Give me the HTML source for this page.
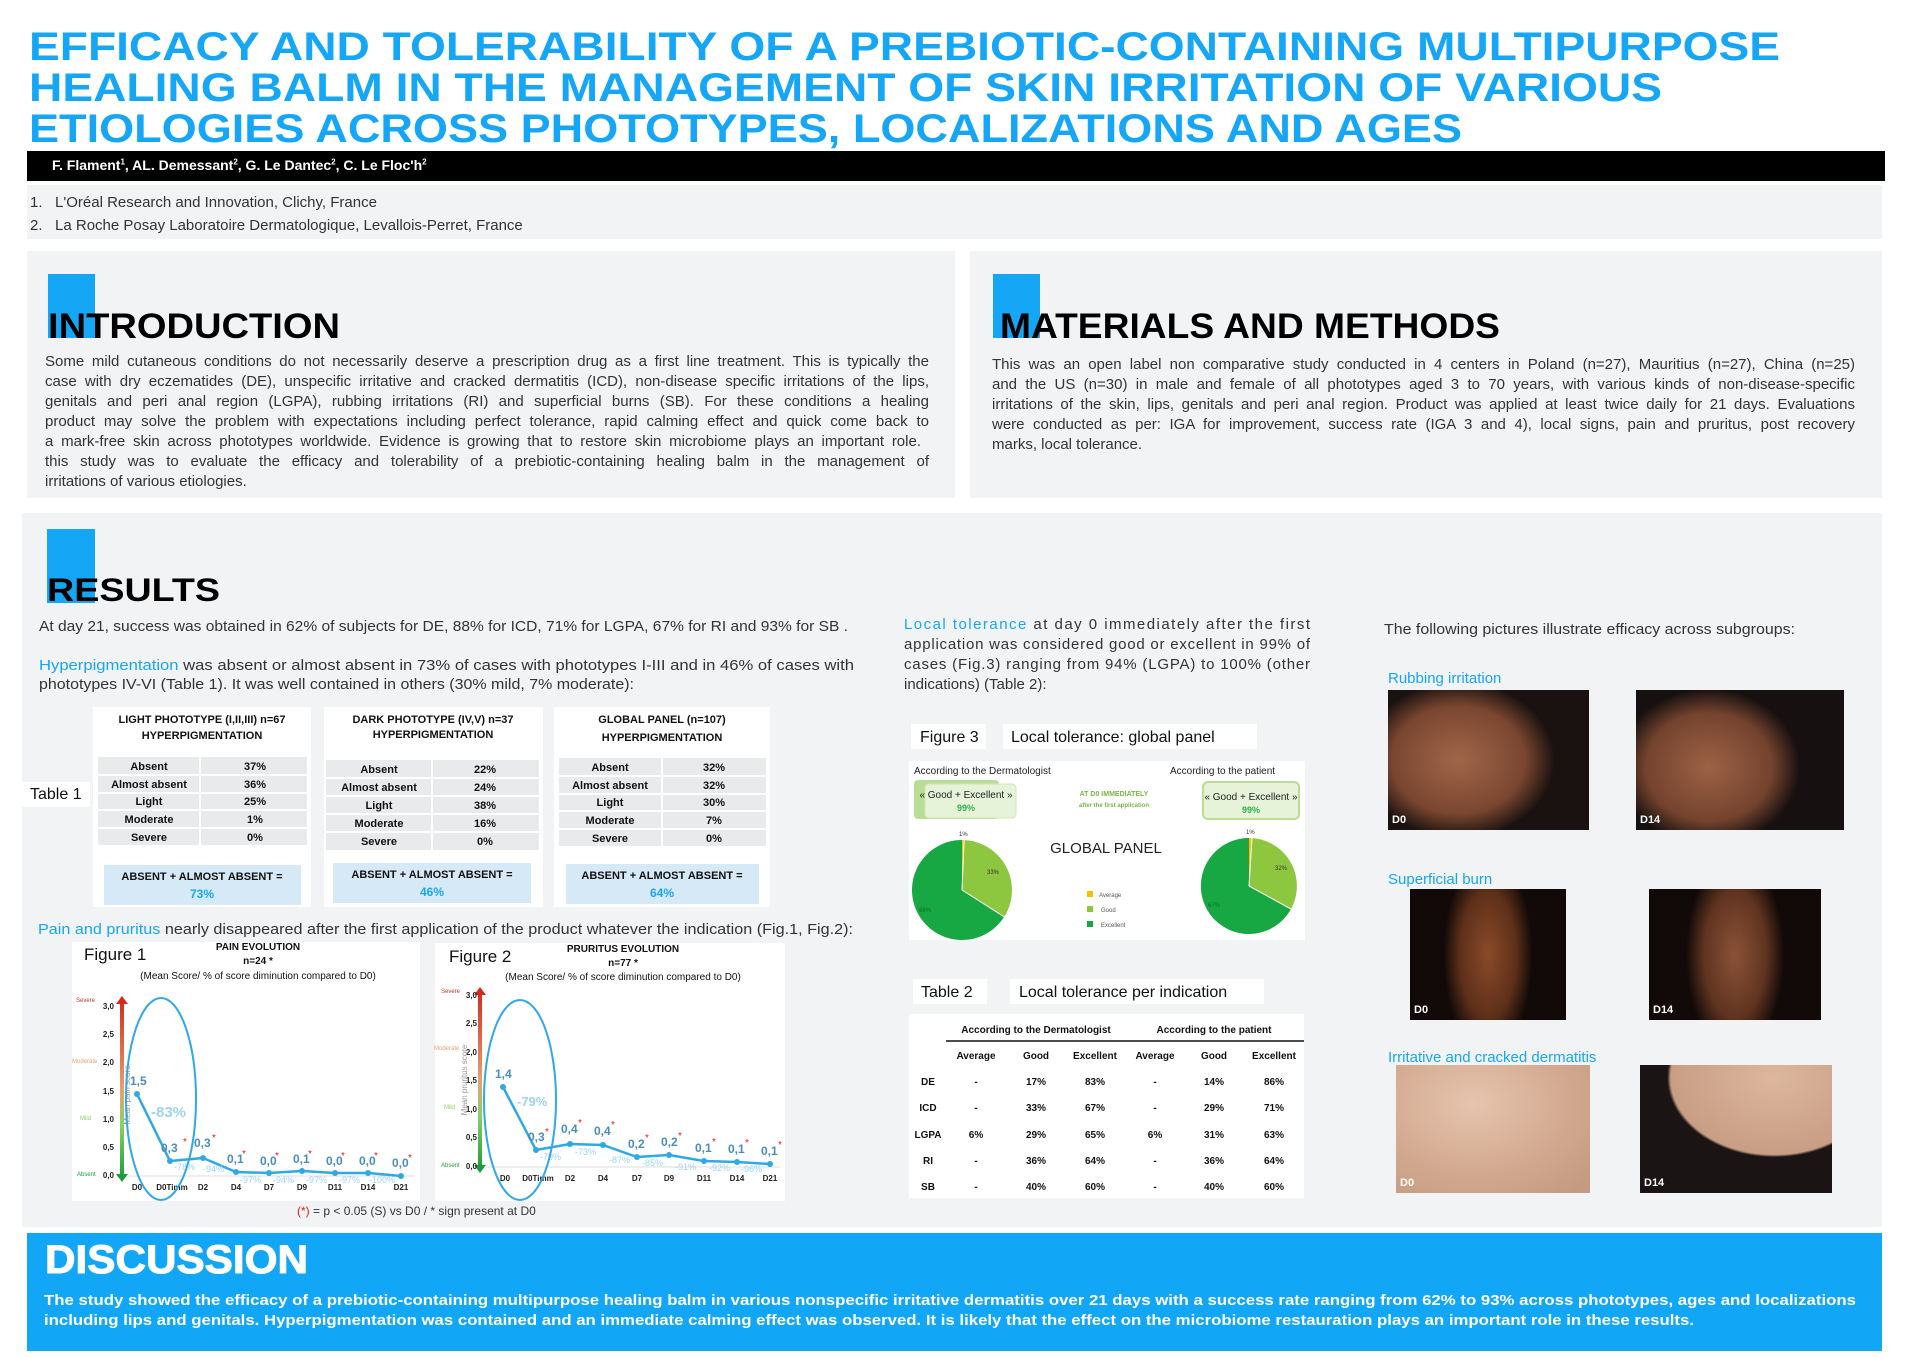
<!DOCTYPE html>
<html><head><meta charset="utf-8">
<style>
*{margin:0;padding:0;box-sizing:border-box}
body{width:1918px;height:1358px;background:#fff;position:relative;overflow:hidden;font-family:"Liberation Sans Narrow","Liberation Sans",sans-serif;color:#222}
.a{position:absolute}
.panel{position:absolute;background:#f2f3f5}
.sq{position:absolute;background:#16a6f6}
.ln{position:absolute;white-space:nowrap;font-size:15px;line-height:20px;color:#333}
.j{text-align:justify;text-align-last:justify}
.photo{position:absolute;background:#0e0c0c;overflow:hidden}
.photo span{position:absolute;left:4px;bottom:4px;color:#fff;font-size:11px;font-weight:bold}
</style></head><body>

<div class="a" style="left:27px;top:151px;width:1858px;height:30px;background:#000"></div>
<div class="a" style="left:52px;top:157px;color:#fff;font-size:14px;font-weight:bold;white-space:nowrap">F. Flament<sup style="font-size:8px">1</sup>, AL. Demessant<sup style="font-size:8px">2</sup>, G. Le Dantec<sup style="font-size:8px">2</sup>, C. Le Floc'h<sup style="font-size:8px">2</sup></div>

<div class="panel" style="left:27px;top:185px;width:1855px;height:54px"></div>
<div class="ln" style="left:30px;top:193px;font-size:15px">1.&nbsp;&nbsp; L'Oréal Research and Innovation, Clichy, France</div>
<div class="ln" style="left:30px;top:216px;font-size:15px">2.&nbsp;&nbsp; La Roche Posay Laboratoire Dermatologique, Levallois-Perret, France</div>

<!-- Intro -->
<div class="panel" style="left:27px;top:251px;width:928px;height:247px"></div>
<div class="sq" style="left:48px;top:274px;width:47px;height:64px"></div>
<div class="ln j" style="left:45px;top:352px;width:884px">Some mild cutaneous conditions do not necessarily deserve a prescription drug as a first line treatment. This is typically the</div>
<div class="ln j" style="left:45px;top:372px;width:884px">case with dry eczematides (DE), unspecific irritative and cracked dermatitis (ICD), non-disease specific irritations of the lips,</div>
<div class="ln j" style="left:45px;top:392px;width:884px">genitals and peri anal region (LGPA), rubbing irritations (RI) and superficial burns (SB). For these conditions a healing</div>
<div class="ln j" style="left:45px;top:412px;width:884px">product may solve the problem with expectations including perfect tolerance, rapid calming effect and quick come back to</div>
<div class="ln j" style="left:45px;top:432px;width:876px">a mark-free skin across phototypes worldwide. Evidence is growing that to restore skin microbiome plays an important role.</div>
<div class="ln j" style="left:45px;top:452px;width:884px">this study was to evaluate the efficacy and tolerability of a prebiotic-containing healing balm in the management of</div>
<div class="ln" style="left:45px;top:472px">irritations of various etiologies.</div>

<!-- Methods -->
<div class="panel" style="left:970px;top:251px;width:912px;height:247px"></div>
<div class="sq" style="left:993px;top:274px;width:47px;height:64px"></div>
<div class="ln j" style="left:992px;top:355px;width:863px">This was an open label non comparative study conducted in 4 centers in Poland (n=27), Mauritius (n=27), China (n=25)</div>
<div class="ln j" style="left:992px;top:375px;width:863px">and the US (n=30) in male and female of all phototypes aged 3 to 70 years, with various kinds of non-disease-specific</div>
<div class="ln j" style="left:992px;top:395px;width:863px">irritations of the skin, lips, genitals and peri anal region. Product was applied at least twice daily for 21 days. Evaluations</div>
<div class="ln j" style="left:992px;top:415px;width:863px">were conducted as per: IGA for improvement, success rate (IGA 3 and 4), local signs, pain and pruritus, post recovery</div>
<div class="ln" style="left:992px;top:435px">marks, local tolerance.</div>

<!-- Results -->
<div class="panel" style="left:22px;top:513px;width:1860px;height:714px"></div>
<div class="sq" style="left:47px;top:529px;width:48px;height:74px"></div>

<div class="a" style="left:22px;top:782px;width:68px;height:25px;background:#fff;font-size:16px;line-height:25px;padding-left:8px;color:#111">Table 1</div>

<!-- Photos -->
<div class="photo" style="left:1388px;top:690px;width:201px;height:140px;background:radial-gradient(ellipse 60% 70% at 35% 50%,#a0664a 0%,#7a4630 55%,#1a1210 80%)"><span>D0</span></div>
<div class="photo" style="left:1636px;top:690px;width:208px;height:140px;background:radial-gradient(ellipse 55% 70% at 35% 55%,#9c6246 0%,#74432e 55%,#161010 80%)"><span>D14</span></div>
<div class="photo" style="left:1410px;top:889px;width:156px;height:131px;background:radial-gradient(ellipse 30% 80% at 50% 50%,#8a4a2a 0%,#5e3019 60%,#120a08 95%)"><span>D0</span></div>
<div class="photo" style="left:1649px;top:889px;width:172px;height:131px;background:radial-gradient(ellipse 30% 80% at 50% 50%,#8a5238 0%,#603420 60%,#120a08 95%)"><span>D14</span></div>
<div class="photo" style="left:1396px;top:1065px;width:194px;height:128px;background:radial-gradient(ellipse 80% 90% at 40% 30%,#e6c4ad 0%,#cfa58b 70%,#c49a80 100%)"><span>D0</span></div>
<div class="photo" style="left:1640px;top:1065px;width:192px;height:128px;background:radial-gradient(ellipse 90% 100% at 70% 10%,#dcb69d 0%,#c89e84 60%,#1a1414 62%)"><span>D14</span></div>

<!-- Discussion -->
<div class="a" style="left:27px;top:1233px;width:1855px;height:118px;background:#12a6f6"></div>

<svg class="a" style="left:0;top:0" width="1918" height="1358" xmlns="http://www.w3.org/2000/svg" font-family="Liberation Sans Narrow, Liberation Sans, sans-serif">
<defs>
<linearGradient id="gr" x1="0" y1="0" x2="0" y2="1"><stop offset="0" stop-color="#d42a1e"/><stop offset="0.5" stop-color="#e8a070"/><stop offset="0.7" stop-color="#8ccf6a"/><stop offset="1" stop-color="#1a9e3a"/></linearGradient>
</defs>
<g font-family="Liberation Sans, sans-serif" font-weight="bold" font-size="40" fill="#16a6f6">
<text x="29" y="60" textLength="1751" lengthAdjust="spacingAndGlyphs">EFFICACY AND TOLERABILITY OF A PREBIOTIC-CONTAINING MULTIPURPOSE</text>
<text x="29" y="101" textLength="1633" lengthAdjust="spacingAndGlyphs">HEALING BALM IN THE MANAGEMENT OF SKIN IRRITATION OF VARIOUS</text>
<text x="29" y="142" textLength="1433" lengthAdjust="spacingAndGlyphs">ETIOLOGIES ACROSS PHOTOTYPES, LOCALIZATIONS AND AGES</text>
</g>
<g font-family="Liberation Sans, sans-serif" font-weight="bold" fill="#000">
<text x="48" y="338" font-size="35" textLength="292" lengthAdjust="spacingAndGlyphs">INTRODUCTION</text>
<text x="1000" y="338" font-size="35" textLength="500" lengthAdjust="spacingAndGlyphs">MATERIALS AND METHODS</text>
<text x="47" y="601" font-size="32" textLength="173" lengthAdjust="spacingAndGlyphs">RESULTS</text>
<text x="45" y="1273" font-size="40" fill="#fff" textLength="263" lengthAdjust="spacingAndGlyphs" stroke="#fff" stroke-width="1">DISCUSSION</text>
</g>
<g font-size="14.5" font-weight="bold" fill="#fff">
<text x="44" y="1305" textLength="1812" lengthAdjust="spacingAndGlyphs">The study showed the efficacy of a prebiotic-containing multipurpose healing balm in various nonspecific irritative dermatitis over 21 days with a success rate ranging from 62% to 93% across phototypes, ages and localizations</text>
<text x="44" y="1325" textLength="1650" lengthAdjust="spacingAndGlyphs">including lips and genitals. Hyperpigmentation was contained and an immediate calming effect was observed. It is likely that the effect on the microbiome restauration plays an important role in these results.</text>
</g>
<g font-size="15" fill="#333">
<text x="39" y="631" textLength="809" lengthAdjust="spacingAndGlyphs">At day 21, success was obtained in 62% of subjects for DE, 88% for ICD, 71% for LGPA, 67% for RI and 93% for SB .</text>
<text x="39" y="670" textLength="815" lengthAdjust="spacingAndGlyphs"><tspan fill="#16a6f6">Hyperpigmentation</tspan> was absent or almost absent in 73% of cases with phototypes I-III and in 46% of cases with</text>
<text x="39" y="689" textLength="595" lengthAdjust="spacingAndGlyphs">phototypes IV-VI (Table 1). It was well contained in others (30% mild, 7% moderate):</text>
<text x="38" y="934" textLength="815" lengthAdjust="spacingAndGlyphs"><tspan fill="#16a6f6">Pain and pruritus</tspan> nearly disappeared after the first application of the product whatever the indication (Fig.1, Fig.2):</text>
</g>

<g font-size="11" font-weight="bold" text-anchor="middle" fill="#111">
<rect x="93" y="707" width="218" height="200" fill="#fff"/>
<text x="202" y="723">LIGHT PHOTOTYPE (I,II,III) n=67</text><text x="202" y="739">HYPERPIGMENTATION</text>
<rect x="98" y="757" width="209" height="88" fill="#e9eaec"/>
<g stroke="#fff" stroke-width="2"><line x1="98" y1="775" x2="307" y2="775"/><line x1="98" y1="793" x2="307" y2="793"/><line x1="98" y1="810" x2="307" y2="810"/><line x1="98" y1="828" x2="307" y2="828"/><line x1="200" y1="757" x2="200" y2="845"/></g>
<text x="149" y="770">Absent</text><text x="255" y="770">37%</text>
<text x="149" y="788">Almost absent</text><text x="255" y="788">36%</text>
<text x="149" y="805">Light</text><text x="255" y="805">25%</text>
<text x="149" y="823">Moderate</text><text x="255" y="823">1%</text>
<text x="149" y="841">Severe</text><text x="255" y="841">0%</text>
<rect x="104" y="865" width="197" height="40" fill="#d6e9f6"/>
<text x="202" y="880">ABSENT + ALMOST ABSENT =</text><text x="202" y="898" fill="#16a6f6" font-size="12">73%</text>

<rect x="324" y="707" width="219" height="200" fill="#fff"/>
<text x="433" y="723">DARK PHOTOTYPE (IV,V) n=37</text><text x="433" y="738">HYPERPIGMENTATION</text>
<rect x="326" y="760" width="213" height="90" fill="#e9eaec"/>
<g stroke="#fff" stroke-width="2"><line x1="326" y1="778" x2="539" y2="778"/><line x1="326" y1="796" x2="539" y2="796"/><line x1="326" y1="814" x2="539" y2="814"/><line x1="326" y1="832" x2="539" y2="832"/><line x1="432" y1="760" x2="432" y2="850"/></g>
<text x="379" y="773">Absent</text><text x="485" y="773">22%</text>
<text x="379" y="791">Almost absent</text><text x="485" y="791">24%</text>
<text x="379" y="809">Light</text><text x="485" y="809">38%</text>
<text x="379" y="827">Moderate</text><text x="485" y="827">16%</text>
<text x="379" y="845">Severe</text><text x="485" y="845">0%</text>
<rect x="333" y="863" width="198" height="40" fill="#d6e9f6"/>
<text x="432" y="878">ABSENT + ALMOST ABSENT =</text><text x="432" y="896" fill="#16a6f6" font-size="12">46%</text>

<rect x="554" y="707" width="216" height="200" fill="#fff"/>
<text x="662" y="723">GLOBAL PANEL (n=107)</text><text x="662" y="741">HYPERPIGMENTATION</text>
<rect x="559" y="758" width="207" height="88" fill="#e9eaec"/>
<g stroke="#fff" stroke-width="2"><line x1="559" y1="776" x2="766" y2="776"/><line x1="559" y1="794" x2="766" y2="794"/><line x1="559" y1="811" x2="766" y2="811"/><line x1="559" y1="829" x2="766" y2="829"/><line x1="662" y1="758" x2="662" y2="846"/></g>
<text x="610" y="771">Absent</text><text x="714" y="771">32%</text>
<text x="610" y="789">Almost absent</text><text x="714" y="789">32%</text>
<text x="610" y="806">Light</text><text x="714" y="806">30%</text>
<text x="610" y="824">Moderate</text><text x="714" y="824">7%</text>
<text x="610" y="842">Severe</text><text x="714" y="842">0%</text>
<rect x="566" y="864" width="193" height="40" fill="#d6e9f6"/>
<text x="662" y="879">ABSENT + ALMOST ABSENT =</text><text x="662" y="897" fill="#16a6f6" font-size="12">64%</text>
</g>

<!-- Figure 1 -->
<rect x="72" y="942" width="348" height="259" fill="#fff"/>
<text x="84" y="960" font-size="17" fill="#111">Figure 1</text>
<g font-size="10" text-anchor="middle" fill="#111"><text x="258" y="950" font-weight="bold">PAIN EVOLUTION</text><text x="258" y="964" font-weight="bold">n=24 *</text><text x="258" y="979">(Mean Score/ % of score diminution compared to D0)</text></g>
<text x="76" y="1002" font-size="6" fill="#c0392b">Severe</text><text x="72" y="1063" font-size="6" fill="#e8a070">Moderate</text><text x="80" y="1120" font-size="6" fill="#8ccf6a">Mild</text><text x="77" y="1176" font-size="6" fill="#1a9e3a">Absent</text>
<rect x="120" y="1000" width="4" height="178" fill="url(#gr)"/>
<polygon points="116,1004 128,1004 122,996" fill="#d42a1e"/><polygon points="116,1174 128,1174 122,1182" fill="#1a9e3a"/>
<g font-size="8" font-weight="bold" fill="#222" text-anchor="end"><text x="114" y="1009">3,0</text><text x="114" y="1037">2,5</text><text x="114" y="1065">2,0</text><text x="114" y="1094">1,5</text><text x="114" y="1122">1,0</text><text x="114" y="1150">0,5</text><text x="114" y="1178">0,0</text></g>
<text transform="translate(130,1095) rotate(-90)" font-size="8" fill="#999" text-anchor="middle">Mean pain score</text>
<line x1="128" y1="1176" x2="415" y2="1176" stroke="#ddd"/>
<polyline points="137,1094 170,1161 203,1158 236,1172 269,1173 302,1171 335,1173 368,1173 401,1176" fill="none" stroke="#2fa8e6" stroke-width="2.5"/>
<g fill="#2fa8e6"><circle cx="137" cy="1094" r="3"/><circle cx="170" cy="1161" r="3"/><circle cx="203" cy="1158" r="3"/><circle cx="236" cy="1172" r="3"/><circle cx="269" cy="1173" r="3"/><circle cx="302" cy="1171" r="3"/><circle cx="335" cy="1173" r="3"/><circle cx="368" cy="1173" r="3"/><circle cx="401" cy="1176" r="3"/></g>
<g font-size="12" font-weight="bold" fill="#4a8db8"><text x="130" y="1085">1,5</text><text x="161" y="1152">0,3</text><text x="194" y="1147">0,3</text><text x="227" y="1163">0,1</text><text x="260" y="1165">0,0</text><text x="293" y="1163">0,1</text><text x="326" y="1165">0,0</text><text x="359" y="1165">0,0</text><text x="392" y="1167">0,0</text></g>
<g font-size="10" fill="#e02020"><text x="183" y="1145">*</text><text x="212" y="1141">*</text><text x="242" y="1157">*</text><text x="275" y="1159">*</text><text x="308" y="1157">*</text><text x="341" y="1159">*</text><text x="374" y="1159">*</text><text x="408" y="1161">*</text></g>
<text x="151" y="1117" font-size="15" font-weight="bold" fill="#9fd3f0">-83%</text>
<g font-size="9" fill="#9fd3f0"><text x="174" y="1170">-78%</text><text x="203" y="1172">-94%</text><text x="240" y="1183">-97%</text><text x="273" y="1183">-94%</text><text x="306" y="1183">-97%</text><text x="339" y="1183">-97%</text><text x="369" y="1183">-100%</text></g>
<g font-size="8" font-weight="bold" fill="#222" text-anchor="middle"><text x="137" y="1190">D0</text><text x="172" y="1190">D0Timm</text><text x="203" y="1190">D2</text><text x="236" y="1190">D4</text><text x="269" y="1190">D7</text><text x="302" y="1190">D9</text><text x="335" y="1190">D11</text><text x="368" y="1190">D14</text><text x="401" y="1190">D21</text></g>
<ellipse cx="161" cy="1099" rx="35" ry="101" fill="none" stroke="#2fa8e6" stroke-width="2"/>

<!-- Figure 2 -->
<rect x="435" y="943" width="350" height="258" fill="#fff"/>
<text x="449" y="962" font-size="17" fill="#111">Figure 2</text>
<g font-size="10" text-anchor="middle" fill="#111"><text x="623" y="952" font-weight="bold">PRURITUS EVOLUTION</text><text x="623" y="966" font-weight="bold">n=77 *</text><text x="623" y="980">(Mean Score/ % of score diminution compared to D0)</text></g>
<text x="441" y="993" font-size="6" fill="#c0392b">Severe</text><text x="434" y="1050" font-size="6" fill="#e8a070">Moderate</text><text x="444" y="1109" font-size="6" fill="#8ccf6a">Mild</text><text x="441" y="1167" font-size="6" fill="#1a9e3a">Absent</text>
<rect x="478" y="991" width="4" height="178" fill="url(#gr)"/>
<polygon points="474,995 486,995 480,987" fill="#d42a1e"/><polygon points="474,1165 486,1165 480,1173" fill="#1a9e3a"/>
<g font-size="8" font-weight="bold" fill="#222" text-anchor="end"><text x="477" y="998">3,0</text><text x="477" y="1026">2,5</text><text x="477" y="1055">2,0</text><text x="477" y="1083">1,5</text><text x="477" y="1112">1,0</text><text x="477" y="1140">0,5</text><text x="477" y="1169">0,0</text></g>
<text transform="translate(467,1080) rotate(-90)" font-size="8" fill="#999" text-anchor="middle">Mean pruritus score</text>
<line x1="486" y1="1167" x2="780" y2="1167" stroke="#ddd"/>
<polyline points="503,1087 536,1150 570,1144 603,1145 637,1157 669,1155 704,1161 737,1162 770,1164" fill="none" stroke="#2fa8e6" stroke-width="2.5"/>
<g fill="#2fa8e6"><circle cx="503" cy="1087" r="3"/><circle cx="536" cy="1150" r="3"/><circle cx="570" cy="1144" r="3"/><circle cx="603" cy="1145" r="3"/><circle cx="637" cy="1157" r="3"/><circle cx="669" cy="1155" r="3"/><circle cx="704" cy="1161" r="3"/><circle cx="737" cy="1162" r="3"/><circle cx="770" cy="1164" r="3"/></g>
<g font-size="12" font-weight="bold" fill="#4a8db8"><text x="495" y="1078">1,4</text><text x="528" y="1141">0,3</text><text x="561" y="1133">0,4</text><text x="594" y="1135">0,4</text><text x="628" y="1148">0,2</text><text x="661" y="1146">0,2</text><text x="695" y="1152">0,1</text><text x="728" y="1153">0,1</text><text x="761" y="1155">0,1</text></g>
<g font-size="10" fill="#e02020"><text x="545" y="1135">*</text><text x="578" y="1126">*</text><text x="611" y="1128">*</text><text x="645" y="1141">*</text><text x="678" y="1139">*</text><text x="712" y="1145">*</text><text x="745" y="1146">*</text><text x="778" y="1148">*</text></g>
<text x="517" y="1106" font-size="13" font-weight="bold" fill="#9fd3f0">-79%</text>
<g font-size="9" fill="#9fd3f0"><text x="540" y="1160">-79%</text><text x="575" y="1155">-73%</text><text x="609" y="1163">-87%</text><text x="642" y="1166">-85%</text><text x="675" y="1170">-91%</text><text x="709" y="1171">-92%</text><text x="741" y="1172">-96%</text></g>
<g font-size="8" font-weight="bold" fill="#222" text-anchor="middle"><text x="505" y="1181">D0</text><text x="538" y="1181">D0Timm</text><text x="570" y="1181">D2</text><text x="603" y="1181">D4</text><text x="637" y="1181">D7</text><text x="669" y="1181">D9</text><text x="704" y="1181">D11</text><text x="737" y="1181">D14</text><text x="770" y="1181">D21</text></g>
<ellipse cx="520" cy="1100" rx="36" ry="100" fill="none" stroke="#2fa8e6" stroke-width="2"/>

<text x="297" y="1215" font-size="12" fill="#333"><tspan fill="#e02020">(*)</tspan> =  p &lt; 0.05 (S) vs D0 / * sign present at D0</text>

<g font-size="15" fill="#333">
<text x="904" y="629" textLength="406" lengthAdjust="spacing"><tspan fill="#16a6f6">Local tolerance</tspan> at day 0 immediately after the first</text>
<text x="904" y="649" textLength="406" lengthAdjust="spacing">application was considered good or excellent in 99% of</text>
<text x="904" y="669" textLength="406" lengthAdjust="spacing">cases (Fig.3) ranging from 94% (LGPA) to 100% (other</text>
<text x="904" y="689">indications) (Table 2):</text>
<text x="1384" y="634" textLength="411" lengthAdjust="spacingAndGlyphs">The following pictures illustrate efficacy across subgroups:</text>
<text x="1388" y="683" fill="#16a6f6">Rubbing irritation</text>
<text x="1388" y="884" fill="#16a6f6">Superficial burn</text>
<text x="1388" y="1062" fill="#16a6f6">Irritative and cracked dermatitis</text>
</g>

<!-- Figure 3 -->
<rect x="911" y="724" width="75" height="25" fill="#fff"/><text x="920" y="742" font-size="16" fill="#111">Figure 3</text>
<rect x="1003" y="724" width="254" height="25" fill="#fff"/><text x="1011" y="742" font-size="16" fill="#111">Local tolerance: global panel</text>
<rect x="909" y="761" width="396" height="179" fill="#fff"/>
<text x="914" y="774" font-size="10" fill="#222">According to the Dermatologist</text>
<text x="1170" y="774" font-size="10" fill="#222">According to the patient</text>
<rect x="914" y="780" width="85" height="39" rx="4" fill="#b9dd94"/>
<rect x="925" y="784" width="91" height="34" rx="4" fill="#e6f3d8" stroke="#cfe6b7"/>
<text x="966" y="798" font-size="10" fill="#222" text-anchor="middle">« Good + Excellent »</text>
<text x="966" y="811" font-size="9" font-weight="bold" fill="#2db34a" text-anchor="middle">99%</text>
<rect x="1203" y="782" width="96" height="37" rx="5" fill="#e6f3d8" stroke="#b9dd94" stroke-width="2"/>
<text x="1251" y="800" font-size="10" fill="#222" text-anchor="middle">« Good + Excellent »</text>
<text x="1251" y="813" font-size="9" font-weight="bold" fill="#2db34a" text-anchor="middle">99%</text>
<text x="1114" y="796" font-size="7" fill="#7ab648" text-anchor="middle" font-weight="bold">AT D0 IMMEDIATELY</text>
<text x="1114" y="807" font-size="6" fill="#7ab648" text-anchor="middle" font-weight="bold">after the first application</text>
<text x="1106" y="853" font-size="15" fill="#222" text-anchor="middle">GLOBAL PANEL</text>
<path d="M962,890 L962,840 A50,50 0 0 1 964.1,840.1 Z" fill="#f5c000"/>
<path d="M962,890 L964.1,840.1 A50,50 0 0 1 1004.2,916.8 Z" fill="#8dc63f"/>
<path d="M962,890 L1004.2,916.8 A50,50 0 1 1 962,840 Z" fill="#17a843"/>
<g stroke="#fff" stroke-width="1"><line x1="962" y1="890" x2="964.1" y2="840.1"/><line x1="962" y1="890" x2="1004.2" y2="916.8"/></g>
<path d="M1249,886 L1249,838 A48,48 0 0 1 1252,838.1 Z" fill="#f5c000"/>
<path d="M1249,886 L1252,838.1 A48,48 0 0 1 1291,909 Z" fill="#8dc63f"/>
<path d="M1249,886 L1291,909 A48,48 0 1 1 1249,838 Z" fill="#17a843"/>
<g stroke="#fff" stroke-width="1"><line x1="1249" y1="886" x2="1252" y2="838.1"/><line x1="1249" y1="886" x2="1291" y2="909"/></g>
<g font-size="6" fill="#333"><text x="959" y="836">1%</text><text x="987" y="874">33%</text><text x="919" y="912" fill="#0d6b2a">66%</text><text x="1246" y="834">1%</text><text x="1275" y="870">32%</text><text x="1208" y="907" fill="#0d6b2a">67%</text></g>
<rect x="1087" y="891" width="6" height="6" fill="#f5c000"/><text x="1099" y="897" font-size="6" fill="#555">Average</text>
<rect x="1087" y="906" width="6" height="6" fill="#8dc63f"/><text x="1101" y="912" font-size="6" fill="#555">Good</text>
<rect x="1087" y="921" width="6" height="6" fill="#17a843"/><text x="1101" y="927" font-size="6" fill="#555">Excellent</text>

<!-- Table 2 -->
<rect x="913" y="979" width="74" height="25" fill="#fff"/><text x="921" y="997" font-size="16" fill="#111">Table 2</text>
<rect x="1010" y="979" width="254" height="25" fill="#fff"/><text x="1019" y="997" font-size="16" fill="#111">Local tolerance per indication</text>
<rect x="909" y="1014" width="395" height="184" fill="#fff"/>
<g font-size="10" font-weight="bold" fill="#111" text-anchor="middle">
<text x="1036" y="1033">According to the Dermatologist</text><text x="1214" y="1033">According to the patient</text>
<line x1="946" y1="1041" x2="1304" y2="1041" stroke="#111" stroke-width="1.5"/>
<text x="976" y="1059">Average</text><text x="1036" y="1059">Good</text><text x="1095" y="1059">Excellent</text><text x="1155" y="1059">Average</text><text x="1214" y="1059">Good</text><text x="1274" y="1059">Excellent</text>
<text x="928" y="1085">DE</text><text x="976" y="1085">-</text><text x="1036" y="1085">17%</text><text x="1095" y="1085">83%</text><text x="1155" y="1085">-</text><text x="1214" y="1085">14%</text><text x="1274" y="1085">86%</text>
<text x="928" y="1111">ICD</text><text x="976" y="1111">-</text><text x="1036" y="1111">33%</text><text x="1095" y="1111">67%</text><text x="1155" y="1111">-</text><text x="1214" y="1111">29%</text><text x="1274" y="1111">71%</text>
<text x="928" y="1138">LGPA</text><text x="976" y="1138">6%</text><text x="1036" y="1138">29%</text><text x="1095" y="1138">65%</text><text x="1155" y="1138">6%</text><text x="1214" y="1138">31%</text><text x="1274" y="1138">63%</text>
<text x="928" y="1164">RI</text><text x="976" y="1164">-</text><text x="1036" y="1164">36%</text><text x="1095" y="1164">64%</text><text x="1155" y="1164">-</text><text x="1214" y="1164">36%</text><text x="1274" y="1164">64%</text>
<text x="928" y="1190">SB</text><text x="976" y="1190">-</text><text x="1036" y="1190">40%</text><text x="1095" y="1190">60%</text><text x="1155" y="1190">-</text><text x="1214" y="1190">40%</text><text x="1274" y="1190">60%</text>
</g>
</svg>
</body></html>
